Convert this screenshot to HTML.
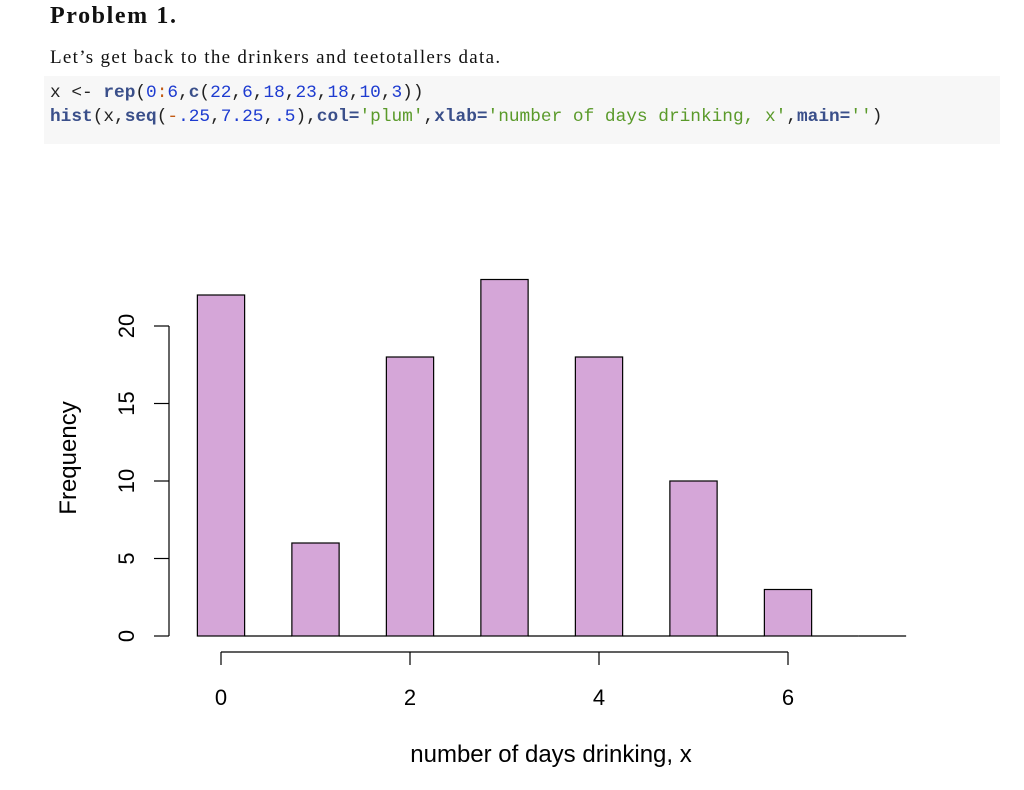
<!DOCTYPE html>
<html><head><meta charset="utf-8"><style>
body{margin:0;width:1024px;height:790px;background:#fff;overflow:hidden;position:relative}
.t{position:absolute;font-family:"Liberation Serif",serif;color:#111;white-space:nowrap}
.code{position:absolute;left:44px;top:76px;width:956px;height:68px;background:#f7f7f7;font-family:"Liberation Mono",monospace;font-size:17.8px;line-height:24px;padding:5px 0 0 6px;box-sizing:border-box;color:#222;white-space:pre}
.f{color:#3a4f8a;font-weight:bold}.n{color:#1d3bd0}.s{color:#5a9a2a}.o{color:#c35a14}
</style></head><body>
<div class="t" style="left:50px;top:3px;font-size:24px;font-weight:bold;letter-spacing:1.6px">Problem 1.</div>
<div class="t" style="left:50px;top:47px;font-size:19px;letter-spacing:1.3px">Let’s get back to the drinkers and teetotallers data.</div>
<div class="code">x &lt;- <span class="f">rep</span>(<span class="n">0</span><span class="o">:</span><span class="n">6</span>,<span class="f">c</span>(<span class="n">22</span>,<span class="n">6</span>,<span class="n">18</span>,<span class="n">23</span>,<span class="n">18</span>,<span class="n">10</span>,<span class="n">3</span>))
<span class="f">hist</span>(x,<span class="f">seq</span>(<span class="o">-</span><span class="n">.25</span>,<span class="n">7.25</span>,<span class="n">.5</span>),<span class="f">col=</span><span class="s">'plum'</span>,<span class="f">xlab=</span><span class="s">'number of days drinking, x'</span>,<span class="f">main=</span><span class="s">''</span>)</div>
<svg id="chart" width="1024" height="790" style="position:absolute;left:0;top:0" font-family="Liberation Sans, sans-serif"></svg>
<script>
const breaks=[-0.25,0.25,0.75,1.25,1.75,2.25,2.75,3.25,3.75,4.25,4.75,5.25,5.75,6.25,6.75,7.25];
const counts=[22,0,6,0,18,0,23,0,18,0,10,0,3,0,0];
const xTicks=[0,2,4,6];
const yTicks=[0,5,10,15,20];
const svg=document.getElementById('chart');const NS='http://www.w3.org/2000/svg';
const X=v=>221+v*94.5, Y=v=>636-v*15.5;
function mk(t,a,p){const e=document.createElementNS(NS,t);for(const k in a)e.setAttribute(k,a[k]);(p||svg).appendChild(e);return e;}
for(let i=0;i<counts.length;i++){
 if(counts[i]>0){
 const r=mk('rect',{x:X(breaks[i]),y:Y(counts[i]),width:X(breaks[i+1])-X(breaks[i]),height:Y(0)-Y(counts[i]),fill:'#d5a6d8',stroke:'#000','stroke-width':1.2});
 
 
 } else {
 const l=mk('line',{x1:X(breaks[i]),x2:X(breaks[i+1]),y1:Y(0),y2:Y(0),stroke:'#000','stroke-width':1.2});
 
 
 }
}
const xa=mk('g',{});


mk('line',{x1:X(xTicks[0]),x2:X(xTicks[xTicks.length-1]),y1:652,y2:652,stroke:'#000','stroke-width':1.2},xa);
xTicks.forEach(v=>{mk('line',{x1:X(v),x2:X(v),y1:652,y2:665,stroke:'#000','stroke-width':1.2},xa);
 const t=mk('text',{x:X(v),y:705,'text-anchor':'middle','font-size':22},xa);t.textContent=v;});
const ya=mk('g',{});


mk('line',{x1:169,x2:169,y1:Y(yTicks[0]),y2:Y(yTicks[yTicks.length-1]),stroke:'#000','stroke-width':1.2},ya);
yTicks.forEach(v=>{mk('line',{x1:154,x2:169,y1:Y(v),y2:Y(v),stroke:'#000','stroke-width':1.2},ya);
 const t=mk('text',{x:0,y:0,'text-anchor':'middle','font-size':22,transform:`translate(134,${Y(v)}) rotate(-90)`},ya);t.textContent=v;});
const xl=mk('text',{x:551,y:762,'text-anchor':'middle','font-size':24});xl.textContent='number of days drinking, x';


const yl=mk('text',{x:0,y:0,'text-anchor':'middle','font-size':24,transform:'translate(76,458) rotate(-90)'});yl.textContent='Frequency';


</script>
</body></html>
